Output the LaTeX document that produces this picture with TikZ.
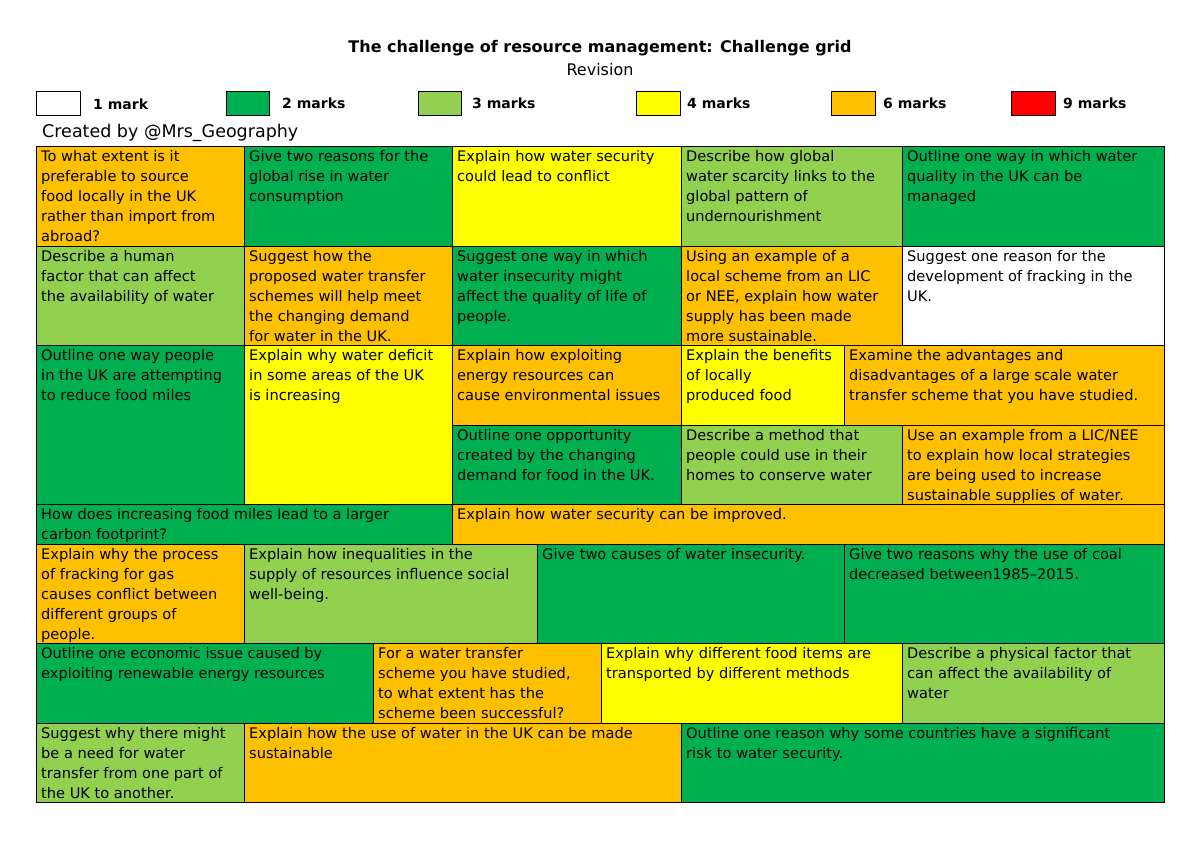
\documentclass[tikz,border=0pt]{standalone}
\usepackage{fontspec}
\setmainfont{DejaVu Sans}
\definecolor{dg}{HTML}{00B050}
\definecolor{lg}{HTML}{92D050}
\definecolor{yl}{HTML}{FFFF00}
\definecolor{og}{HTML}{FFC000}
\definecolor{rd}{HTML}{FF0000}
\tikzset{cellbox/.style={draw=black,line width=0.8pt},
celltext/.style={anchor=north west,inner sep=0pt,align=left,font=\fontsize{14.6}{20}\selectfont},
legbox/.style={draw=black,line width=0.8pt},
legtext/.style={anchor=west,inner sep=0pt,font=\fontsize{14}{16}\selectfont\bfseries}}
\newcommand{\gcell}[7]{\filldraw[cellbox,fill=#5] (#1,#2) rectangle (#3,#4);
\node[celltext] (#6) at (#1+5,#2+4) {#7};}
\begin{document}
\begin{tikzpicture}[x=1pt,y=-1pt]
\useasboundingbox (0,0) rectangle (1200,849);
\node[font=\fontsize{16}{18}\selectfont\bfseries] (title) at (600,48) {The challenge of resource management: Challenge grid};
\node[font=\fontsize{16}{18}\selectfont] (rev) at (600,70) {Revision};
\draw[legbox,fill=white] (36,91) rectangle (80,115); \node[legtext] (l1) at (93,104) {1 mark};
\draw[legbox,fill=dg] (226,91) rectangle (269,115); \node[legtext] (l2) at (282,103) {2 marks};
\draw[legbox,fill=lg] (418,91) rectangle (461,115); \node[legtext] (l3) at (472,103) {3 marks};
\draw[legbox,fill=yl] (636,91) rectangle (680,115); \node[legtext] (l4) at (687,103) {4 marks};
\draw[legbox,fill=og] (831,91) rectangle (875,115); \node[legtext] (l6) at (883,103) {6 marks};
\draw[legbox,fill=rd] (1011,91) rectangle (1055,115); \node[legtext] (l9) at (1063,103) {9 marks};
\node[anchor=west,inner sep=0pt,font=\fontsize{17.5}{20}\selectfont] (cb) at (42,133) {Created by @Mrs\_Geography};
% row 1
\gcell{36}{146}{244}{246}{og}{a1}{To what extent is it\\preferable to source\\food locally in the UK\\rather than import from\\abroad?}
\gcell{244}{146}{452}{246}{dg}{a2}{Give two reasons for the\\global rise in water\\consumption}
\gcell{452}{146}{681}{246}{yl}{a3}{Explain how water security\\could lead to conflict}
\gcell{681}{146}{902}{246}{lg}{a4}{Describe how global\\water scarcity links to the\\global pattern of\\undernourishment}
\gcell{902}{146}{1164}{246}{dg}{a5}{Outline one way in which water\\quality in the UK can be\\managed}
% row 2
\gcell{36}{246}{244}{345}{lg}{b1}{Describe a human\\factor that can affect\\the availability of water}
\gcell{244}{246}{452}{345}{og}{b2}{Suggest how the\\proposed water transfer\\schemes will help meet\\the changing demand\\for water in the UK.}
\gcell{452}{246}{681}{345}{dg}{b3}{Suggest one way in which\\water insecurity might\\affect the quality of life of\\people.}
\gcell{681}{246}{902}{345}{og}{b4}{Using an example of a\\local scheme from an LIC\\or NEE, explain how water\\supply has been made\\more sustainable.}
\gcell{902}{246}{1164}{345}{white}{b5}{Suggest one reason for the\\development of fracking in the\\UK.}
% row 3
\gcell{36}{345}{244}{504}{dg}{c1}{Outline one way people\\in the UK are attempting\\to reduce food miles}
\gcell{244}{345}{452}{504}{yl}{c2}{Explain why water deficit\\in some areas of the UK\\is increasing}
\gcell{452}{345}{681}{425}{og}{c3}{Explain how exploiting\\energy resources can\\cause environmental issues}
\gcell{681}{345}{844}{425}{yl}{c4}{Explain the benefits\\of locally\\produced food}
\gcell{844}{345}{1164}{425}{og}{c5}{Examine the advantages and\\disadvantages of a large scale water\\transfer scheme that you have studied.}
\gcell{452}{425}{681}{504}{dg}{d3}{Outline one opportunity\\created by the changing\\demand for food in the UK.}
\gcell{681}{425}{902}{504}{lg}{d4}{Describe a method that\\people could use in their\\homes to conserve water}
\gcell{902}{425}{1164}{504}{og}{d5}{Use an example from a LIC/NEE\\to explain how local strategies\\are being used to increase\\sustainable supplies of water.}
% row 4
\gcell{36}{504}{452}{544}{dg}{e1}{How does increasing food miles lead to a larger\\carbon footprint?}
\gcell{452}{504}{1164}{544}{og}{e2}{Explain how water security can be improved.}
% row 5
\gcell{36}{544}{244}{643}{og}{f1}{Explain why the process\\of fracking for gas\\causes conflict between\\different groups of\\people.}
\gcell{244}{544}{537}{643}{lg}{f2}{Explain how inequalities in the\\supply of resources influence social\\well-being.}
\gcell{537}{544}{844}{643}{dg}{f3}{Give two causes of water insecurity.}
\gcell{844}{544}{1164}{643}{dg}{f4}{Give two reasons why the use of coal\\decreased between1985–2015.}
% row 6
\gcell{36}{643}{373}{723}{dg}{g1}{Outline one economic issue caused by\\exploiting renewable energy resources}
\gcell{373}{643}{601}{723}{og}{g2}{For a water transfer\\scheme you have studied,\\to what extent has the\\scheme been successful?}
\gcell{601}{643}{902}{723}{yl}{g3}{Explain why different food items are\\transported by different methods}
\gcell{902}{643}{1164}{723}{lg}{g4}{Describe a physical factor that\\can affect the availability of\\water}
% row 7
\gcell{36}{723}{244}{802}{lg}{h1}{Suggest why there might\\be a need for water\\transfer from one part of\\the UK to another.}
\gcell{244}{723}{681}{802}{og}{h2}{Explain how the use of water in the UK can be made\\sustainable}
\gcell{681}{723}{1164}{802}{dg}{h3}{Outline one reason why some countries have a significant\\risk to water security.}
\end{tikzpicture}
\end{document}
